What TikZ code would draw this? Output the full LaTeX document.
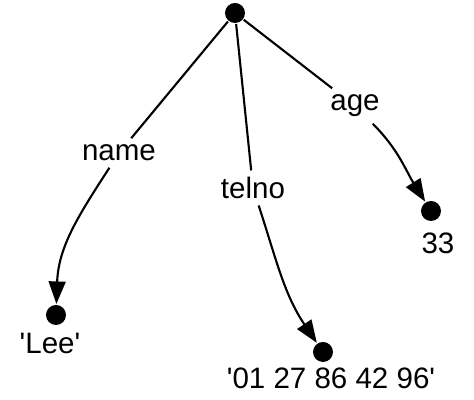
\documentclass[tikz,border=0pt]{standalone}
\usepackage{fontspec}
\setmainfont{Liberation Sans}
\usetikzlibrary{arrows.meta}
\begin{document}
\begin{tikzpicture}[line width=1.5pt, >={Triangle[length=16pt, width=12pt]},
	every node/.style = {font=\fontsize{21}{25}\selectfont},
	dot/.style = {circle, fill, inner sep=0pt, minimum size=0.5cm},
	key/.style = {fill=white, inner sep=4pt}]
	\useasboundingbox (0,0) rectangle (11.85,10);
	% tuple and its fields
	\node[dot] (root) at (5.875,9.675) {};
	\node[key] (name) at (2.975,6.175) {name};
	\node[key] (telno) at (6.325,5.3) {telno};
	\node[key] (age) at (8.875,7.35) {age};
	% values
	\node[dot] (lee) at (1.4,2.125) {};
	\node[dot] (phone) at (8.075,1.2) {};
	\node[dot] (years) at (10.775,4.725) {};
	\node (leetext) at (1.25,1.4) {\textquotesingle Lee\textquotesingle};
	\node (phonetext) at (8.275,0.55) {\textquotesingle 01 27 86 42 96\textquotesingle};
	\node (yearstext) at (10.95,3.925) {33};
	\draw (root) -- (name);
	\draw (root) -- (telno);
	\draw (root) -- (age);
	\draw[->] (name) to[out=237, in=88] (lee);
	\draw[->] (telno) to[out=288, in=124] (phone);
	\draw[->] (age) to[out=-45, in=122] (years);
\end{tikzpicture}
\end{document}
